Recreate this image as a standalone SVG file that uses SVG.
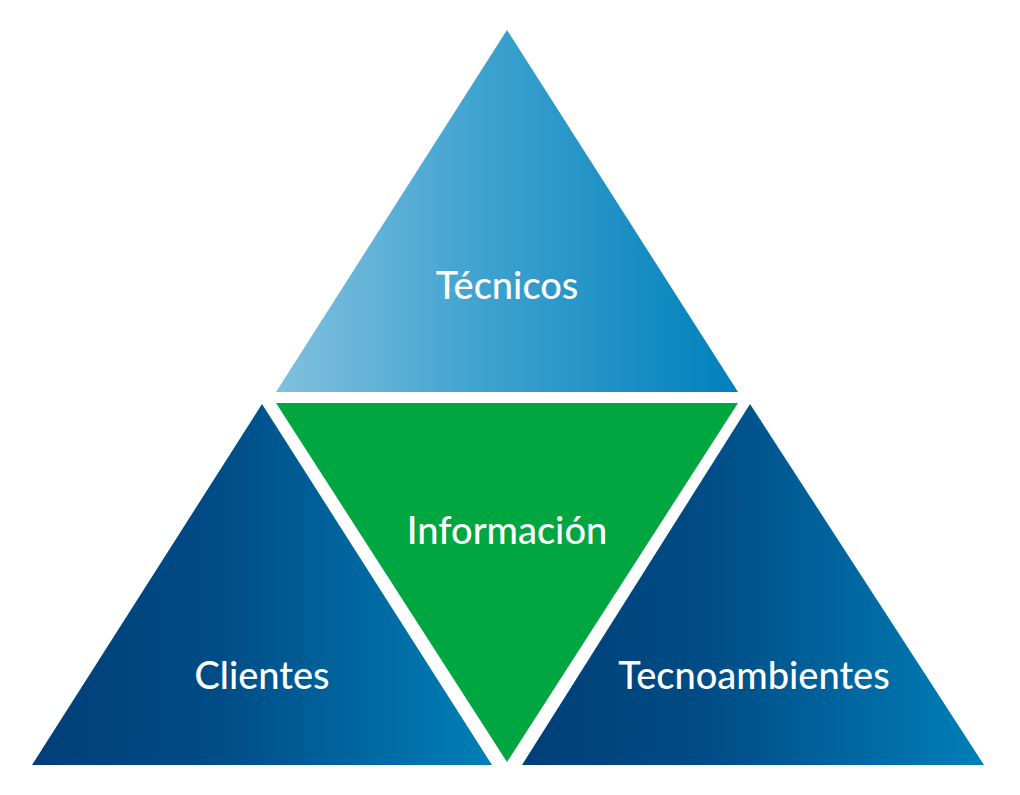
<svg xmlns="http://www.w3.org/2000/svg" width="1020" height="795" viewBox="0 0 1020 795">
<defs>
<linearGradient id="gTop" x1="276" y1="0" x2="738" y2="0" gradientUnits="userSpaceOnUse"><stop offset="0" stop-color="#82c0de"/><stop offset="0.45" stop-color="#3ea2cf"/><stop offset="1" stop-color="#0080bc"/></linearGradient>
<linearGradient id="gL" x1="32" y1="0" x2="492" y2="0" gradientUnits="userSpaceOnUse"><stop offset="0" stop-color="#003f78"/><stop offset="0.4" stop-color="#004c86"/><stop offset="1" stop-color="#007fb8"/></linearGradient>
<linearGradient id="gR" x1="522" y1="0" x2="984" y2="0" gradientUnits="userSpaceOnUse"><stop offset="0" stop-color="#003f78"/><stop offset="0.4" stop-color="#004c86"/><stop offset="1" stop-color="#007fb8"/></linearGradient>
<style>text{font-family:"Lato","Liberation Sans",sans-serif;font-size:38px;font-weight:500;fill:#fff;text-anchor:middle}</style>
</defs>
<rect width="1020" height="795" fill="#fff"/>
<g id="tecnicos"><polygon points="507,30 738,392 276,392" fill="url(#gTop)"/><text x="507" y="299">Técnicos</text></g>
<g id="informacion"><polygon points="276,403 738,403 507,762" fill="#00a640"/><text x="507" y="544">Información</text></g>
<g id="clientes"><polygon points="262,404 492,765 32,765" fill="url(#gL)"/><text x="262" y="689">Clientes</text></g>
<g id="tecnoambientes"><polygon points="750,404 984,765 522,765" fill="url(#gR)"/><text x="754" y="689">Tecnoambientes</text></g>
<g id="connectors"/>
</svg>
